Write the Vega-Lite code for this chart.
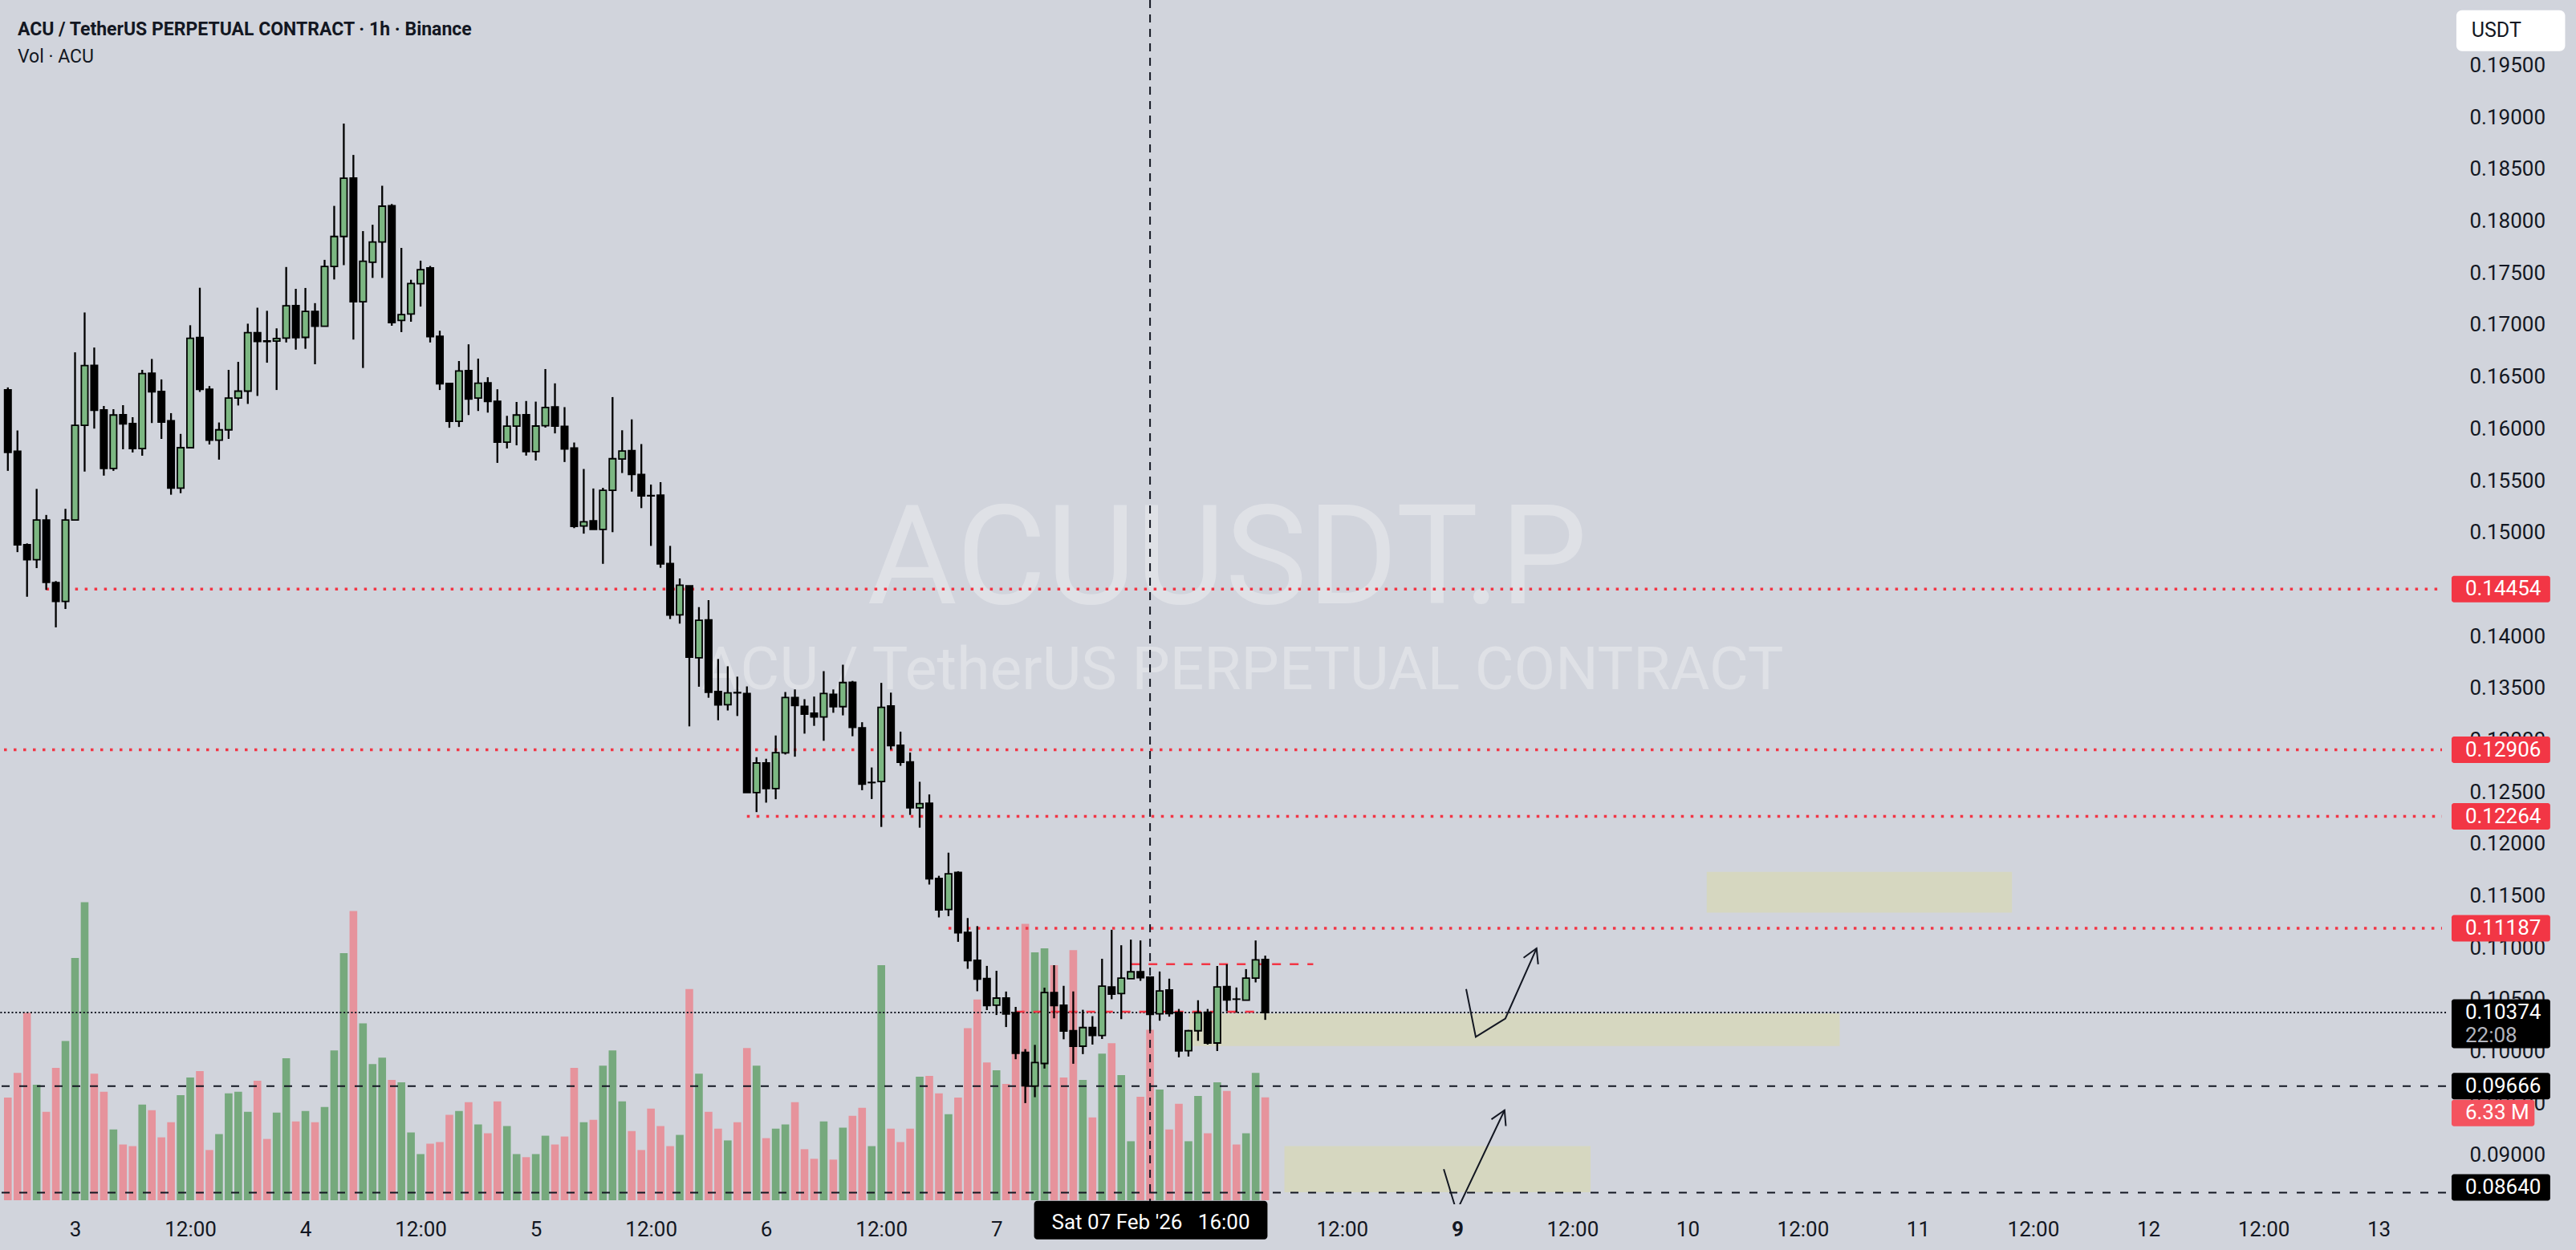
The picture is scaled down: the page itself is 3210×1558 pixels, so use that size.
{
"$schema":"https://vega.github.io/schema/vega-lite/v6.json",
"width":3048,"height":1501,
"autosize":{"type":"none"},
"padding":{"left":0,"top":0,"right":162,"bottom":57},
"background":"#d1d4dc",
"config":{"view":{"stroke":null},"font":"Roboto"},
"datasets":{"candles":[
{"t":"2026-02-02T17:00:00Z","o":0.16375,"h":0.16398,"l":0.15594,"c":0.15771,"v":6.32},
{"t":"2026-02-02T18:00:00Z","o":0.15784,"h":0.15983,"l":0.14811,"c":0.14880,"v":7.84},
{"t":"2026-02-02T19:00:00Z","o":0.14883,"h":0.14895,"l":0.14381,"c":0.14737,"v":11.53},
{"t":"2026-02-02T20:00:00Z","o":0.14737,"h":0.15420,"l":0.14657,"c":0.15121,"v":7.11},
{"t":"2026-02-02T21:00:00Z","o":0.15121,"h":0.15169,"l":0.14447,"c":0.14519,"v":5.44},
{"t":"2026-02-02T22:00:00Z","o":0.14517,"h":0.14532,"l":0.14086,"c":0.14335,"v":8.14},
{"t":"2026-02-02T23:00:00Z","o":0.14335,"h":0.15228,"l":0.14263,"c":0.15121,"v":9.80},
{"t":"2026-02-03T00:00:00Z","o":0.15121,"h":0.16736,"l":0.15121,"c":0.16032,"v":14.90},
{"t":"2026-02-03T01:00:00Z","o":0.16032,"h":0.17120,"l":0.15587,"c":0.16608,"v":18.33},
{"t":"2026-02-03T02:00:00Z","o":0.16611,"h":0.16782,"l":0.16001,"c":0.16178,"v":7.79},
{"t":"2026-02-03T03:00:00Z","o":0.16181,"h":0.16219,"l":0.15548,"c":0.15617,"v":6.67},
{"t":"2026-02-03T04:00:00Z","o":0.15617,"h":0.16188,"l":0.15594,"c":0.16132,"v":4.36},
{"t":"2026-02-03T05:00:00Z","o":0.16135,"h":0.16227,"l":0.15802,"c":0.16047,"v":3.43},
{"t":"2026-02-03T06:00:00Z","o":0.16050,"h":0.16111,"l":0.15771,"c":0.15809,"v":3.33},
{"t":"2026-02-03T07:00:00Z","o":0.15809,"h":0.16567,"l":0.15740,"c":0.16531,"v":5.88},
{"t":"2026-02-03T08:00:00Z","o":0.16534,"h":0.16672,"l":0.16055,"c":0.16355,"v":5.54},
{"t":"2026-02-03T09:00:00Z","o":0.16360,"h":0.16475,"l":0.15902,"c":0.16063,"v":3.87},
{"t":"2026-02-03T10:00:00Z","o":0.16076,"h":0.16150,"l":0.15364,"c":0.15428,"v":4.80},
{"t":"2026-02-03T11:00:00Z","o":0.15428,"h":0.15950,"l":0.15379,"c":0.15817,"v":6.47},
{"t":"2026-02-03T12:00:00Z","o":0.15817,"h":0.16997,"l":0.15817,"c":0.16872,"v":7.55},
{"t":"2026-02-03T13:00:00Z","o":0.16879,"h":0.17358,"l":0.16355,"c":0.16378,"v":7.94},
{"t":"2026-02-03T14:00:00Z","o":0.16380,"h":0.16411,"l":0.15848,"c":0.15889,"v":3.09},
{"t":"2026-02-03T15:00:00Z","o":0.15889,"h":0.16060,"l":0.15702,"c":0.15989,"v":4.07},
{"t":"2026-02-03T16:00:00Z","o":0.15989,"h":0.16567,"l":0.15902,"c":0.16296,"v":6.57},
{"t":"2026-02-03T17:00:00Z","o":0.16296,"h":0.16644,"l":0.16224,"c":0.16362,"v":6.67},
{"t":"2026-02-03T18:00:00Z","o":0.16362,"h":0.17012,"l":0.16239,"c":0.16926,"v":5.44},
{"t":"2026-02-03T19:00:00Z","o":0.16926,"h":0.17166,"l":0.16316,"c":0.16841,"v":7.35},
{"t":"2026-02-03T20:00:00Z","o":0.16846,"h":0.17136,"l":0.16636,"c":0.16840,"v":3.77},
{"t":"2026-02-03T21:00:00Z","o":0.16844,"h":0.16967,"l":0.16373,"c":0.16869,"v":5.39},
{"t":"2026-02-03T22:00:00Z","o":0.16874,"h":0.17558,"l":0.16831,"c":0.17184,"v":8.73},
{"t":"2026-02-03T23:00:00Z","o":0.17187,"h":0.17348,"l":0.16762,"c":0.16877,"v":4.85},
{"t":"2026-02-04T00:00:00Z","o":0.16880,"h":0.17356,"l":0.16770,"c":0.17130,"v":5.49},
{"t":"2026-02-04T01:00:00Z","o":0.17130,"h":0.17210,"l":0.16621,"c":0.16987,"v":4.80},
{"t":"2026-02-04T02:00:00Z","o":0.16987,"h":0.17627,"l":0.16987,"c":0.17563,"v":5.74},
{"t":"2026-02-04T03:00:00Z","o":0.17563,"h":0.18147,"l":0.17438,"c":0.17852,"v":9.22},
{"t":"2026-02-04T04:00:00Z","o":0.17852,"h":0.18940,"l":0.17576,"c":0.18413,"v":15.20},
{"t":"2026-02-04T05:00:00Z","o":0.18416,"h":0.18638,"l":0.16859,"c":0.17223,"v":17.79},
{"t":"2026-02-04T06:00:00Z","o":0.17223,"h":0.17904,"l":0.16585,"c":0.17614,"v":10.88},
{"t":"2026-02-04T07:00:00Z","o":0.17604,"h":0.17965,"l":0.17453,"c":0.17799,"v":8.38},
{"t":"2026-02-04T08:00:00Z","o":0.17799,"h":0.18341,"l":0.17453,"c":0.18144,"v":8.77},
{"t":"2026-02-04T09:00:00Z","o":0.18149,"h":0.18165,"l":0.16992,"c":0.17023,"v":7.40},
{"t":"2026-02-04T10:00:00Z","o":0.17043,"h":0.17742,"l":0.16931,"c":0.17100,"v":7.25},
{"t":"2026-02-04T11:00:00Z","o":0.17105,"h":0.17435,"l":0.17031,"c":0.17399,"v":4.17},
{"t":"2026-02-04T12:00:00Z","o":0.17397,"h":0.17619,"l":0.17177,"c":0.17532,"v":2.84},
{"t":"2026-02-04T13:00:00Z","o":0.17550,"h":0.17568,"l":0.16831,"c":0.16887,"v":3.48},
{"t":"2026-02-04T14:00:00Z","o":0.16890,"h":0.16944,"l":0.16373,"c":0.16432,"v":3.58},
{"t":"2026-02-04T15:00:00Z","o":0.16437,"h":0.16442,"l":0.16009,"c":0.16071,"v":5.25},
{"t":"2026-02-04T16:00:00Z","o":0.16071,"h":0.16652,"l":0.16017,"c":0.16557,"v":5.49},
{"t":"2026-02-04T17:00:00Z","o":0.16560,"h":0.16813,"l":0.16132,"c":0.16286,"v":6.03},
{"t":"2026-02-04T18:00:00Z","o":0.16296,"h":0.16675,"l":0.16171,"c":0.16439,"v":4.66},
{"t":"2026-02-04T19:00:00Z","o":0.16442,"h":0.16496,"l":0.16155,"c":0.16263,"v":4.12},
{"t":"2026-02-04T20:00:00Z","o":0.16265,"h":0.16380,"l":0.15671,"c":0.15871,"v":6.08},
{"t":"2026-02-04T21:00:00Z","o":0.15871,"h":0.16124,"l":0.15810,"c":0.16025,"v":4.56},
{"t":"2026-02-04T22:00:00Z","o":0.16025,"h":0.16258,"l":0.15840,"c":0.16132,"v":2.84},
{"t":"2026-02-04T23:00:00Z","o":0.16135,"h":0.16267,"l":0.15741,"c":0.15779,"v":2.65},
{"t":"2026-02-05T00:00:00Z","o":0.15779,"h":0.16261,"l":0.15694,"c":0.16026,"v":2.84},
{"t":"2026-02-05T01:00:00Z","o":0.16029,"h":0.16575,"l":0.16011,"c":0.16205,"v":3.97},
{"t":"2026-02-05T02:00:00Z","o":0.16211,"h":0.16437,"l":0.15955,"c":0.16026,"v":3.43},
{"t":"2026-02-05T03:00:00Z","o":0.16023,"h":0.16208,"l":0.15679,"c":0.15805,"v":3.92},
{"t":"2026-02-05T04:00:00Z","o":0.15814,"h":0.15867,"l":0.15042,"c":0.15059,"v":8.14},
{"t":"2026-02-05T05:00:00Z","o":0.15062,"h":0.15612,"l":0.14989,"c":0.15103,"v":4.80},
{"t":"2026-02-05T06:00:00Z","o":0.15112,"h":0.15424,"l":0.15030,"c":0.15030,"v":4.95},
{"t":"2026-02-05T07:00:00Z","o":0.15030,"h":0.15430,"l":0.14698,"c":0.15406,"v":8.28},
{"t":"2026-02-05T08:00:00Z","o":0.15406,"h":0.16305,"l":0.15003,"c":0.15711,"v":9.22},
{"t":"2026-02-05T09:00:00Z","o":0.15708,"h":0.15985,"l":0.15573,"c":0.15785,"v":6.08},
{"t":"2026-02-05T10:00:00Z","o":0.15788,"h":0.16090,"l":0.15394,"c":0.15559,"v":4.26},
{"t":"2026-02-05T11:00:00Z","o":0.15559,"h":0.15852,"l":0.15235,"c":0.15353,"v":3.09},
{"t":"2026-02-05T12:00:00Z","o":0.15356,"h":0.15462,"l":0.14871,"c":0.15353,"v":5.64},
{"t":"2026-02-05T13:00:00Z","o":0.15359,"h":0.15485,"l":0.14660,"c":0.14698,"v":4.56},
{"t":"2026-02-05T14:00:00Z","o":0.14701,"h":0.14871,"l":0.14166,"c":0.14204,"v":3.33},
{"t":"2026-02-05T15:00:00Z","o":0.14207,"h":0.14557,"l":0.14122,"c":0.14492,"v":4.02},
{"t":"2026-02-05T16:00:00Z","o":0.14486,"h":0.14486,"l":0.13132,"c":0.13799,"v":12.99},
{"t":"2026-02-05T17:00:00Z","o":0.13793,"h":0.14281,"l":0.13514,"c":0.14154,"v":7.79},
{"t":"2026-02-05T18:00:00Z","o":0.14157,"h":0.14348,"l":0.13408,"c":0.13461,"v":5.44},
{"t":"2026-02-05T19:00:00Z","o":0.13467,"h":0.13781,"l":0.13191,"c":0.13338,"v":4.41},
{"t":"2026-02-05T20:00:00Z","o":0.13341,"h":0.13711,"l":0.13285,"c":0.13455,"v":3.68},
{"t":"2026-02-05T21:00:00Z","o":0.13458,"h":0.13611,"l":0.13232,"c":0.13455,"v":4.80},
{"t":"2026-02-05T22:00:00Z","o":0.13449,"h":0.13517,"l":0.12494,"c":0.12494,"v":9.36},
{"t":"2026-02-05T23:00:00Z","o":0.12494,"h":0.12835,"l":0.12306,"c":0.12779,"v":8.28},
{"t":"2026-02-06T00:00:00Z","o":0.12779,"h":0.12820,"l":0.12397,"c":0.12533,"v":3.82},
{"t":"2026-02-06T01:00:00Z","o":0.12533,"h":0.13044,"l":0.12430,"c":0.12879,"v":4.41},
{"t":"2026-02-06T02:00:00Z","o":0.12877,"h":0.13463,"l":0.12861,"c":0.13410,"v":4.66},
{"t":"2026-02-06T03:00:00Z","o":0.13410,"h":0.13488,"l":0.12840,"c":0.13332,"v":6.03},
{"t":"2026-02-06T04:00:00Z","o":0.13325,"h":0.13394,"l":0.13062,"c":0.13250,"v":3.14},
{"t":"2026-02-06T05:00:00Z","o":0.13260,"h":0.13419,"l":0.13137,"c":0.13222,"v":2.55},
{"t":"2026-02-06T06:00:00Z","o":0.13222,"h":0.13664,"l":0.12993,"c":0.13448,"v":4.85},
{"t":"2026-02-06T07:00:00Z","o":0.13441,"h":0.13488,"l":0.13263,"c":0.13322,"v":2.50},
{"t":"2026-02-06T08:00:00Z","o":0.13322,"h":0.13726,"l":0.13238,"c":0.13554,"v":4.46},
{"t":"2026-02-06T09:00:00Z","o":0.13557,"h":0.13570,"l":0.13037,"c":0.13122,"v":5.20},
{"t":"2026-02-06T10:00:00Z","o":0.13118,"h":0.13172,"l":0.12517,"c":0.12576,"v":5.69},
{"t":"2026-02-06T11:00:00Z","o":0.12590,"h":0.12736,"l":0.12432,"c":0.12592,"v":3.33},
{"t":"2026-02-06T12:00:00Z","o":0.12601,"h":0.13551,"l":0.12163,"c":0.13316,"v":14.46},
{"t":"2026-02-06T13:00:00Z","o":0.13328,"h":0.13457,"l":0.12908,"c":0.12946,"v":4.41},
{"t":"2026-02-06T14:00:00Z","o":0.12949,"h":0.13081,"l":0.12752,"c":0.12786,"v":3.58},
{"t":"2026-02-06T15:00:00Z","o":0.12789,"h":0.12880,"l":0.12279,"c":0.12347,"v":4.41},
{"t":"2026-02-06T16:00:00Z","o":0.12347,"h":0.12598,"l":0.12156,"c":0.12388,"v":7.60},
{"t":"2026-02-06T17:00:00Z","o":0.12391,"h":0.12476,"l":0.11608,"c":0.11664,"v":7.65},
{"t":"2026-02-06T18:00:00Z","o":0.11667,"h":0.11692,"l":0.11291,"c":0.11363,"v":6.57},
{"t":"2026-02-06T19:00:00Z","o":0.11367,"h":0.11915,"l":0.11304,"c":0.11711,"v":5.29},
{"t":"2026-02-06T20:00:00Z","o":0.11724,"h":0.11736,"l":0.11056,"c":0.11144,"v":6.32},
{"t":"2026-02-06T21:00:00Z","o":0.11147,"h":0.11285,"l":0.10796,"c":0.10874,"v":10.59},
{"t":"2026-02-06T22:00:00Z","o":0.10878,"h":0.11207,"l":0.10580,"c":0.10696,"v":12.35},
{"t":"2026-02-06T23:00:00Z","o":0.10702,"h":0.10824,"l":0.10398,"c":0.10442,"v":8.48},
{"t":"2026-02-07T00:00:00Z","o":0.10445,"h":0.10777,"l":0.10351,"c":0.10514,"v":7.99},
{"t":"2026-02-07T01:00:00Z","o":0.10514,"h":0.10577,"l":0.10235,"c":0.10361,"v":7.16},
{"t":"2026-02-07T02:00:00Z","o":0.10373,"h":0.10429,"l":0.09925,"c":0.09981,"v":10.30},
{"t":"2026-02-07T03:00:00Z","o":0.09991,"h":0.10022,"l":0.09502,"c":0.09668,"v":17.00},
{"t":"2026-02-07T04:00:00Z","o":0.09666,"h":0.10063,"l":0.09559,"c":0.09892,"v":15.25},
{"t":"2026-02-07T05:00:00Z","o":0.09884,"h":0.10614,"l":0.09835,"c":0.10567,"v":15.49},
{"t":"2026-02-07T06:00:00Z","o":0.10567,"h":0.10831,"l":0.10319,"c":0.10442,"v":14.46},
{"t":"2026-02-07T07:00:00Z","o":0.10445,"h":0.10632,"l":0.10117,"c":0.10196,"v":7.55},
{"t":"2026-02-07T08:00:00Z","o":0.10199,"h":0.10578,"l":0.09881,"c":0.10050,"v":15.39},
{"t":"2026-02-07T09:00:00Z","o":0.10050,"h":0.10401,"l":0.09974,"c":0.10230,"v":7.40},
{"t":"2026-02-07T10:00:00Z","o":0.10230,"h":0.10340,"l":0.10066,"c":0.10153,"v":5.10},
{"t":"2026-02-07T11:00:00Z","o":0.10153,"h":0.10893,"l":0.10120,"c":0.10629,"v":9.02},
{"t":"2026-02-07T12:00:00Z","o":0.10621,"h":0.11172,"l":0.10503,"c":0.10552,"v":9.66},
{"t":"2026-02-07T13:00:00Z","o":0.10557,"h":0.11023,"l":0.10311,"c":0.10706,"v":7.70},
{"t":"2026-02-07T14:00:00Z","o":0.10701,"h":0.11077,"l":0.10701,"c":0.10767,"v":3.63},
{"t":"2026-02-07T15:00:00Z","o":0.10767,"h":0.11069,"l":0.10680,"c":0.10711,"v":6.37},
{"t":"2026-02-07T16:00:00Z","o":0.10716,"h":0.10716,"l":0.10194,"c":0.10357,"v":10.49},
{"t":"2026-02-07T17:00:00Z","o":0.10363,"h":0.10770,"l":0.10296,"c":0.10583,"v":6.81},
{"t":"2026-02-07T18:00:00Z","o":0.10593,"h":0.10701,"l":0.10335,"c":0.10365,"v":4.36},
{"t":"2026-02-07T19:00:00Z","o":0.10375,"h":0.10409,"l":0.09943,"c":0.10004,"v":5.93},
{"t":"2026-02-07T20:00:00Z","o":0.10007,"h":0.10207,"l":0.09951,"c":0.10199,"v":3.63},
{"t":"2026-02-07T21:00:00Z","o":0.10199,"h":0.10493,"l":0.10102,"c":0.10373,"v":6.42},
{"t":"2026-02-07T22:00:00Z","o":0.10378,"h":0.10409,"l":0.10066,"c":0.10081,"v":4.12},
{"t":"2026-02-07T23:00:00Z","o":0.10081,"h":0.10823,"l":0.10004,"c":0.10621,"v":7.25},
{"t":"2026-02-08T00:00:00Z","o":0.10624,"h":0.10839,"l":0.10386,"c":0.10496,"v":6.72},
{"t":"2026-02-08T01:00:00Z","o":0.10504,"h":0.10616,"l":0.10373,"c":0.10503,"v":3.43},
{"t":"2026-02-08T02:00:00Z","o":0.10493,"h":0.10793,"l":0.10493,"c":0.10706,"v":4.12},
{"t":"2026-02-08T03:00:00Z","o":0.10706,"h":0.11069,"l":0.10665,"c":0.10882,"v":7.84},
{"t":"2026-02-08T04:00:00Z","o":0.10885,"h":0.10923,"l":0.10304,"c":0.10374,"v":6.33}
]},
"resolve":{"scale":{"y":"independent"}},
"layer":[
{"layer":[
 {"data":{"name":"candles"},"mark":{"type":"bar","size":9.6},
  "encoding":{
   "x":{"field":"t","type":"temporal","title":null,"scale":{"type":"utc","domain":[1770050160000,1770964560000]},
     "axis":{"title":null,"values":[1770076800000,1770120000000,1770163200000,1770206400000,1770249600000,1770292800000,1770336000000,1770379200000,1770422400000,1770552000000,1770595200000,1770638400000,1770681600000,1770724800000,1770768000000,1770811200000,1770854400000,1770897600000,1770940800000],
       "labelExpr":"utcFormat(datum.value,'%H:%M')=='00:00' ? utcFormat(datum.value,'%-d') : utcFormat(datum.value,'%H:%M')",
       "labelFontSize":26,"labelColor":"#131722","labelPadding":31,"labelBaseline":"middle","ticks":false,"tickSize":0,"domain":false,"grid":false,"labelOverlap":false,"labelFlush":false,"zindex":0,
       "labelFontWeight":{"condition":{"test":"utcFormat(datum.value,'%d %H')=='09 00'","value":"bold"},"value":"normal"}}},
   "y":{"field":"v","type":"quantitative","scale":{"domain":[0,73.58],"nice":false,"zero":true},"axis":null},
   "fill":{"condition":{"test":"datum.c >= datum.o","value":"#76a97d"},"value":"#e6939c"}}},
 {"data":{"values":[{}]},"mark":{"type":"bar","orient":"horizontal","size":33,"fill":"#f4535f","cornerRadius":3,"yOffset":19.6},
  "encoding":{"x":{"datum":1770968160000,"type":"temporal","title":null},"x2":{"datum":1770999264000},"y":{"datum":6.33,"type":"quantitative","axis":null}}},
 {"data":{"values":[{}]},"mark":{"type":"text","align":"left","baseline":"middle","fontSize":26,"fill":"#ffffff","yOffset":19.6,"text":"6.33 M"},
  "encoding":{"x":{"datum":1770973260000,"type":"temporal","title":null},"y":{"datum":6.33,"type":"quantitative","axis":null}}}
]},
{"layer":[
 {"data":{"values":[{}]},"mark":{"type":"text","text":"ACUUSDT.P","fontSize":172,"fill":"#ffffff","opacity":0.3,"align":"center","baseline":"middle"},
  "encoding":{"x":{"datum":1770508908000,"type":"temporal","title":null},"y":{"datum":0.14717,"type":"quantitative","title":null}}},
 {"data":{"values":[{}]},"mark":{"type":"text","text":"ACU / TetherUS PERPETUAL CONTRACT","fontSize":75,"fill":"#ffffff","opacity":0.3,"align":"center","baseline":"middle"},
  "encoding":{"x":{"datum":1770514680000,"type":"temporal","title":null},"y":{"datum":0.13665,"type":"quantitative","title":null}}},
 {"data":{"values":[
   {"t1":"2026-02-10T02:00:00Z","t2":"2026-02-11T09:48:00Z","p1":0.11730,"p2":0.11338},
   {"t1":"2026-02-07T20:04:00Z","t2":"2026-02-10T15:51:00Z","p1":0.10365,"p2":0.10053},
   {"t1":"2026-02-08T06:00:00Z","t2":"2026-02-09T13:54:00Z","p1":0.09088,"p2":0.08643}]},
  "mark":{"type":"rect","fill":"#d6d7c0"},
  "encoding":{"x":{"field":"t1","type":"temporal","title":null},"x2":{"field":"t2"},"y":{"field":"p1","type":"quantitative","title":null},"y2":{"field":"p2"}}},
 {"data":{"values":[
   {"p":0.14454,"from":"2026-02-02T21:00:00Z"},
   {"p":0.12906,"from":"2026-02-02T16:36:00Z"},
   {"p":0.12264,"from":"2026-02-05T22:00:00Z"},
   {"p":0.11187,"from":"2026-02-06T19:00:00Z"}]},
  "mark":{"type":"rule","stroke":"#f23645","strokeWidth":3.5,"strokeDash":[3.5,8.5]},
  "encoding":{"x":{"field":"from","type":"temporal","title":null},"x2":{"datum":1770964560000},"y":{"field":"p","type":"quantitative","title":null}}},
 {"data":{"values":[{"p":0.09666},{"p":0.0864}]},
  "mark":{"type":"rule","stroke":"#131722","strokeWidth":2,"strokeDash":[10,12]},
  "encoding":{"y":{"field":"p","type":"quantitative","title":null}}},
 {"data":{"values":[{"p":0.10374}]},
  "mark":{"type":"rule","stroke":"#131722","strokeWidth":2,"strokeDash":[2,2.7]},
  "encoding":{"y":{"field":"p","type":"quantitative","title":null}}},
 {"data":{"values":[
   {"p":0.1084,"from":"2026-02-07T14:00:00Z","to":"2026-02-08T09:00:00Z"},
   {"p":0.10383,"from":"2026-02-07T02:00:00Z","to":"2026-02-08T04:00:00Z"}]},
  "mark":{"type":"rule","stroke":"#f23645","strokeWidth":2.5,"strokeDash":[11,11]},
  "encoding":{"x":{"field":"from","type":"temporal","title":null},"x2":{"field":"to"},"y":{"field":"p","type":"quantitative","title":null}}},
 {"data":{"values":[
   {"g":"a1","i":0,"t":"2026-02-09T00:56:00Z","p":0.10601},
   {"g":"a1","i":1,"t":"2026-02-09T01:56:00Z","p":0.10140},
   {"g":"a1","i":2,"t":"2026-02-09T05:01:00Z","p":0.10317},
   {"g":"a1","i":3,"t":"2026-02-09T08:16:00Z","p":0.10993},
   {"g":"h1","i":0,"t":"2026-02-09T06:55:00Z","p":0.10902},
   {"g":"h1","i":1,"t":"2026-02-09T08:16:00Z","p":0.10993},
   {"g":"h1","i":2,"t":"2026-02-09T08:26:00Z","p":0.10840},
   {"g":"a2","i":0,"t":"2026-02-08T22:36:00Z","p":0.08865},
   {"g":"a2","i":1,"t":"2026-02-08T23:56:00Z","p":0.08459},
   {"g":"a2","i":2,"t":"2026-02-09T04:56:00Z","p":0.09434},
   {"g":"h2","i":0,"t":"2026-02-09T03:34:00Z","p":0.09346},
   {"g":"h2","i":1,"t":"2026-02-09T04:56:00Z","p":0.09434},
   {"g":"h2","i":2,"t":"2026-02-09T05:04:00Z","p":0.09281}]},
  "mark":{"type":"line","stroke":"#131722","strokeWidth":2,"clip":true},
  "encoding":{"x":{"field":"t","type":"temporal","title":null},"y":{"field":"p","type":"quantitative","title":null},"detail":{"field":"g"},"order":{"field":"i"}}},
 {"data":{"values":[{}]},"mark":{"type":"rule","stroke":"#131722","strokeWidth":2,"strokeDash":[10,8]},
  "encoding":{"x":{"datum":1770480000000,"type":"temporal","title":null}}},
 {"data":{"name":"candles"},"mark":{"type":"rule","stroke":"#000000","strokeWidth":2.3},
  "encoding":{
   "x":{"field":"t","type":"temporal","title":null,"scale":{"type":"utc","domain":[1770050160000,1770964560000]}},
   "y":{"field":"l","type":"quantitative","title":null,"scale":{"domain":[0.085659,0.200921],"nice":false,"zero":false},
     "axis":{"orient":"right","title":null,"values":[0.09,0.095,0.1,0.105,0.11,0.115,0.12,0.125,0.13,0.135,0.14,0.145,0.15,0.155,0.16,0.165,0.17,0.175,0.18,0.185,0.19,0.195],
       "format":".5f","labelFontSize":26,"labelColor":"#131722","labelPadding":29,"labelAlign":"left","labelBaseline":"middle","ticks":false,"tickSize":0,"domain":false,"grid":false,"labelOverlap":false,"labelFlush":false,"zindex":0}},
   "y2":{"field":"h"}}},
 {"data":{"name":"candles"},"mark":{"type":"bar","size":8.2,"stroke":"#000000","strokeWidth":1.8},
  "encoding":{
   "x":{"field":"t","type":"temporal","title":null},
   "y":{"field":"o","type":"quantitative","title":null},"y2":{"field":"c"},
   "fill":{"condition":{"test":"datum.c >= datum.o","value":"#7cb782"},"value":"#000000"}}},
 {"data":{"values":[{"p":0.14454},{"p":0.12906},{"p":0.12264},{"p":0.11187}]},
  "mark":{"type":"bar","orient":"horizontal","size":33,"fill":"#f23645","cornerRadius":3},
  "encoding":{"x":{"datum":1770968160000,"type":"temporal","title":null},"x2":{"datum":1771005150000},"y":{"field":"p","type":"quantitative","title":null}}},
 {"data":{"values":[{"p":0.09666}]},
  "mark":{"type":"bar","orient":"horizontal","size":33,"fill":"#000000","cornerRadius":3},
  "encoding":{"x":{"datum":1770968160000,"type":"temporal","title":null},"x2":{"datum":1771005150000},"y":{"field":"p","type":"quantitative","title":null}}},
 {"data":{"values":[{"p":0.14454},{"p":0.12906},{"p":0.12264},{"p":0.11187},{"p":0.09666}]},
  "mark":{"type":"text","align":"left","baseline":"middle","fontSize":26,"fill":"#ffffff"},
  "encoding":{"x":{"datum":1770973260000,"type":"temporal","title":null},"y":{"field":"p","type":"quantitative","title":null},"text":{"field":"p","type":"quantitative","format":".5f"}}},
 {"data":{"values":[{"p":0.0864}]},
  "mark":{"type":"bar","orient":"horizontal","size":33,"fill":"#000000","cornerRadius":3,"yOffset":-6.5},
  "encoding":{"x":{"datum":1770968160000,"type":"temporal","title":null},"x2":{"datum":1771005150000},"y":{"field":"p","type":"quantitative","title":null}}},
 {"data":{"values":[{"p":0.0864}]},
  "mark":{"type":"text","align":"left","baseline":"middle","fontSize":26,"fill":"#ffffff","yOffset":-6.5},
  "encoding":{"x":{"datum":1770973260000,"type":"temporal","title":null},"y":{"field":"p","type":"quantitative","title":null},"text":{"field":"p","type":"quantitative","format":".5f"}}},
 {"data":{"values":[{"p":0.10374}]},
  "mark":{"type":"bar","orient":"horizontal","size":61,"fill":"#000000","cornerRadius":3,"yOffset":14},
  "encoding":{"x":{"datum":1770968160000,"type":"temporal","title":null},"x2":{"datum":1771005150000},"y":{"field":"p","type":"quantitative","title":null}}},
 {"data":{"values":[{"p":0.10374}]},
  "mark":{"type":"text","align":"left","baseline":"middle","fontSize":26,"fill":"#ffffff"},
  "encoding":{"x":{"datum":1770973260000,"type":"temporal","title":null},"y":{"field":"p","type":"quantitative","title":null},"text":{"field":"p","type":"quantitative","format":".5f"}}},
 {"data":{"values":[{"p":0.10374}]},
  "mark":{"type":"text","align":"left","baseline":"middle","fontSize":26,"fill":"#b2b5be","yOffset":28.7,"text":"22:08"},
  "encoding":{"x":{"datum":1770973260000,"type":"temporal","title":null},"y":{"field":"p","type":"quantitative","title":null}}},
 {"data":{"values":[{}]},"mark":{"type":"bar","orient":"horizontal","size":51,"fill":"#ffffff","cornerRadius":7},
  "encoding":{"x":{"datum":1770969960000,"type":"temporal","title":null},"x2":{"datum":1771010748000},"y":{"datum":0.19835,"type":"quantitative","title":null}}},
 {"data":{"values":[{}]},"mark":{"type":"text","text":"USDT","fontSize":25,"fill":"#131722","align":"center","baseline":"middle"},
  "encoding":{"x":{"datum":1770984972000,"type":"temporal","title":null},"y":{"datum":0.19835,"type":"quantitative","title":null}}},
 {"data":{"values":[{}]},"mark":{"type":"text","text":"ACU / TetherUS PERPETUAL CONTRACT · 1h · Binance","fontSize":23,"fontWeight":"bold","fill":"#131722","align":"left","baseline":"alphabetic"},
  "encoding":{"x":{"datum":1770055260000,"type":"temporal","title":null},"y":{"datum":0.19793,"type":"quantitative","title":null}}},
 {"data":{"values":[{}]},"mark":{"type":"text","text":"Vol · ACU","fontSize":23,"fill":"#131722","align":"left","baseline":"alphabetic"},
  "encoding":{"x":{"datum":1770055260000,"type":"temporal","title":null},"y":{"datum":0.19524,"type":"quantitative","title":null}}},
 {"data":{"values":[{}]},"mark":{"type":"bar","orient":"horizontal","size":48,"fill":"#000000","cornerRadius":4},
  "encoding":{"x":{"datum":1770436500000,"type":"temporal","title":null},"x2":{"datum":1770524040000},"y":{"datum":0.08374,"type":"quantitative","title":null}}},
 {"data":{"values":[{}]},"mark":{"type":"text","text":"Sat 07 Feb '26\u00a0\u00a0\u00a016:00","fontSize":26,"fill":"#ffffff","align":"center","baseline":"middle"},
  "encoding":{"x":{"datum":1770480270000,"type":"temporal","title":null},"y":{"datum":0.08348,"type":"quantitative","title":null}}}
]}
]
}
